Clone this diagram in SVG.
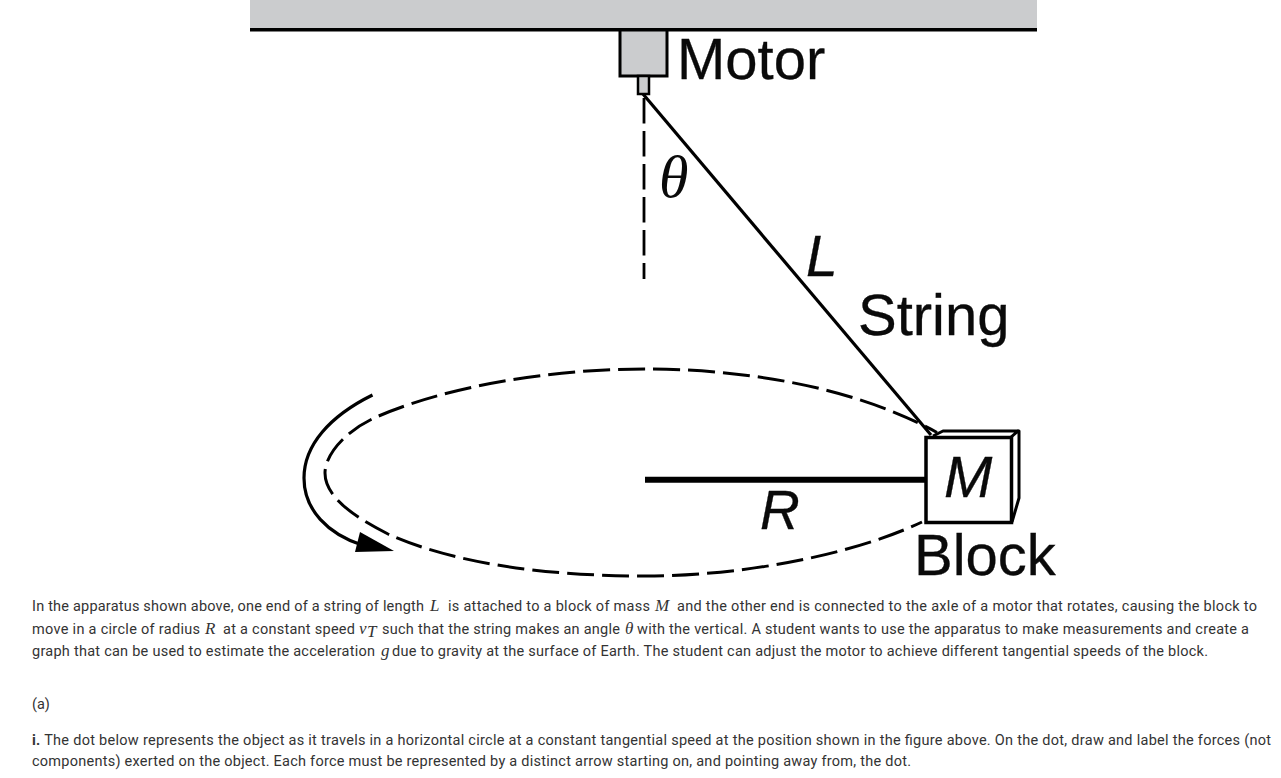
<svg xmlns="http://www.w3.org/2000/svg" width="1281" height="778" viewBox="0 0 1281 778">
<style>
.lb{font-family:"Liberation Sans",Arial,sans-serif;fill:#0a0a0a;stroke:#0a0a0a;stroke-width:.3}
.big{font-size:58px}
.it{font-style:italic}
.t{font-family:Roboto,"Liberation Sans",sans-serif;font-size:14.5px;fill:#333}
.m{font-family:"Liberation Serif",serif;font-style:italic;font-size:17px;fill:#333}
.s{fill:none;stroke:#000;stroke-width:3.2}
.d{fill:none;stroke:#000;stroke-width:3;stroke-dasharray:27 8;stroke-dashoffset:15}
</style>
<rect width="1281" height="778" fill="#fff"/>
<g id="ceiling"><rect x="250" y="0" width="787" height="29" fill="#cbccce"/><rect x="250" y="28" width="787" height="3.500" fill="#000"/></g>
<g id="motor">
<rect x="620" y="30" width="47" height="46" fill="#cbccce" stroke="#000" stroke-width="3"/>
<rect x="638" y="76" width="11" height="18" fill="#cbccce" stroke="#000" stroke-width="2.500"/>
<text class="lb big" x="677" y="79">Motor</text>
</g>
<g id="connectors">
<path d="M644,98V279" fill="none" stroke="#000" stroke-width="2.800" stroke-dasharray="25.500 7.500"/>
<path class="s" d="M643,94L931,435"/>
<path class="d" d="M922,522C850,556 740,576 645,576C540,576 450,562 388,534C350,515 325,495 325,473C325,455 345,432 372,419C435,390 540,369 645,369C740,369 850,385 937,432.500"/>
<path class="s" d="M372.500,395C330,416 304,445 304,478C304,510 328,534 362,545"/>
<path d="M360,532L394,551L355,552Z" fill="#000"/>
<path d="M645,479.700H926" fill="none" stroke="#000" stroke-width="6"/>
</g>
<g id="block">
<path d="M933,436L943,431H1019V498L1012,522M1010,438L1019,430" fill="none" stroke="#000" stroke-width="3" stroke-linejoin="round"/>
<rect x="926" y="437.500" width="85.500" height="85" fill="none" stroke="#000" stroke-width="3.500"/>
<text class="lb it" x="944" y="497" font-size="58">M</text>
<text class="lb big" x="914" y="575">Block</text>
</g>
<g id="labels">
<text x="659" y="197" font-family="Liberation Serif,serif" font-style="italic" font-size="60" fill="#0a0a0a">θ</text>
<text class="lb it" x="806" y="276" font-size="57">L</text>
<text class="lb big" x="858" y="335">String</text>
<text class="lb it" x="760" y="529" font-size="55">R</text>
</g>
<g id="text">
<text class="t" x="32" y="611" textLength="392" lengthAdjust="spacing">In the apparatus shown above, one end of a string of length</text>
<text class="m" x="430" y="611">L</text>
<text class="t" x="448" y="611" textLength="202" lengthAdjust="spacing">is attached to a block of mass</text>
<text class="m" x="655" y="611">M</text>
<text class="t" x="677" y="611" textLength="580" lengthAdjust="spacing">and the other end is connected to the axle of a motor that rotates, causing the block to</text>
<text class="t" x="32" y="634" textLength="168" lengthAdjust="spacing">move in a circle of radius</text>
<text class="m" x="205" y="634">R</text>
<text class="t" x="223" y="634" textLength="132" lengthAdjust="spacing">at a constant speed</text>
<text class="m" x="359" y="634">v</text>
<text class="m" x="367" y="637" font-size="12">T</text>
<text class="t" x="382" y="634" textLength="238" lengthAdjust="spacing">such that the string makes an angle</text>
<text class="m" x="625" y="634">θ</text>
<text class="t" x="637" y="634" textLength="612" lengthAdjust="spacing">with the vertical. A student wants to use the apparatus to make measurements and create a</text>
<text class="t" x="32" y="656" textLength="343" lengthAdjust="spacing">graph that can be used to estimate the acceleration</text>
<text class="m" x="381" y="656">g</text>
<text class="t" x="392" y="656" textLength="816" lengthAdjust="spacing">due to gravity at the surface of Earth. The student can adjust the motor to achieve different tangential speeds of the block.</text>
<text class="t" x="32" y="709">(a)</text>
<text class="t" x="32" y="745" textLength="1239" lengthAdjust="spacing"><tspan font-weight="700">i.</tspan> The dot below represents the object as it travels in a horizontal circle at a constant tangential speed at the position shown in the figure above. On the dot, draw and label the forces (not</text>
<text class="t" x="32" y="766" textLength="879" lengthAdjust="spacing">components) exerted on the object. Each force must be represented by a distinct arrow starting on, and pointing away from, the dot.</text>
</g>
</svg>
